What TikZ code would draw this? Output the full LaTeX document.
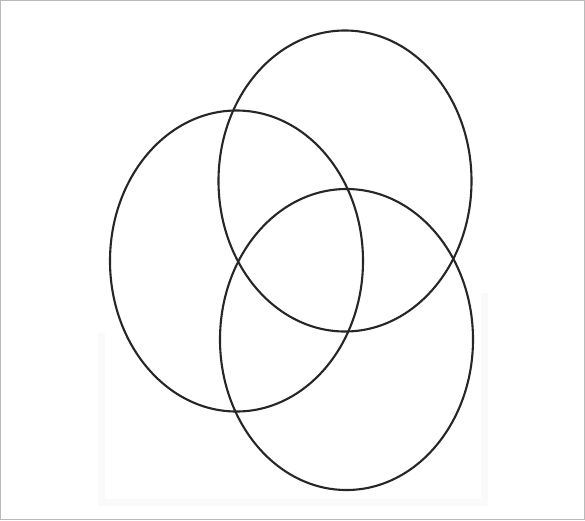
\documentclass[tikz,border=0pt]{standalone}
\usetikzlibrary{shapes.geometric}
\tikzset{
  venn_c/.style = {ellipse, draw=black!85, line width=2.1pt, inner sep=0pt,
    minimum width=253pt, minimum height=301pt},
  page_b/.style = {draw=black!2, line width=7pt}
}

\begin{document}
\begin{tikzpicture}[x=1pt,y=-1pt]
\useasboundingbox (0,0) rectangle (585,520);
\fill[white] (0,0) rectangle (585,520);
\draw[black!27, line width=1pt] (0.5,0.5) rectangle (584.5,519.5);
% faint sheet edge
\draw[page_b] (101,333) -- (101,502) -- (484,502) -- (484,293);
% the three sets
\node [venn_c] (top) at (345,181) {};
\node [venn_c] (left) at (236.5,261) {};
\node [venn_c] (bottom) at (346.5,339.5) {};
\end{tikzpicture}
\end{document}
